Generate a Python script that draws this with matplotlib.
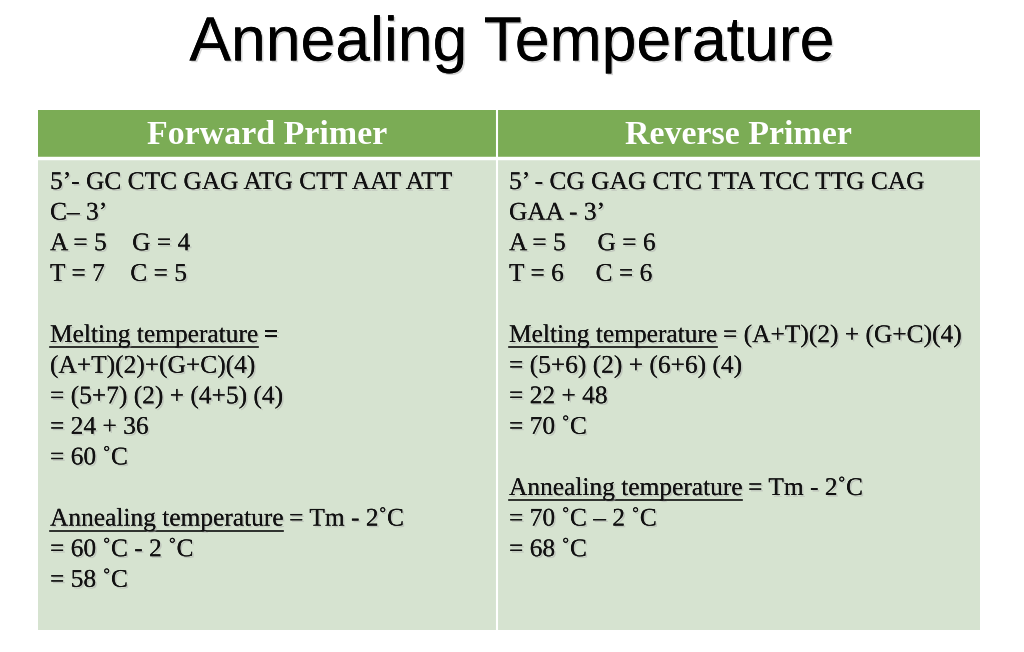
import matplotlib
matplotlib.use("Agg")
import matplotlib.pyplot as plt
from matplotlib.patches import Rectangle
import matplotlib.patheffects as pe

title = "Annealing Temperature"
headers = ["Forward Primer", "Reverse Primer"]
# each line: (underlined part, rest); None = blank line
left_lines = [("", "5’- GC CTC GAG ATG CTT AAT ATT"), ("", "C– 3’"),
              ("", "A = 5    G = 4"), ("", "T = 7    C = 5"), None,
              ("Melting temperature", " ="), ("", "(A+T)(2)+(G+C)(4)"),
              ("", "= (5+7) (2) + (4+5) (4)"), ("", "= 24 + 36"), ("", "= 60 ˚C"), None,
              ("Annealing temperature", " = Tm - 2˚C"), ("", "= 60 ˚C - 2 ˚C"), ("", "= 58 ˚C")]
right_lines = [("", "5’ - CG GAG CTC TTA TCC TTG CAG"), ("", "GAA - 3’"),
               ("", "A = 5     G = 6"), ("", "T = 6     C = 6"), None,
               ("Melting temperature", " = (A+T)(2) + (G+C)(4)"), ("", "= (5+6) (2) + (6+6) (4)"),
               ("", "= 22 + 48"), ("", "= 70 ˚C"), None,
               ("Annealing temperature", " = Tm - 2˚C"), ("", "= 70 ˚C – 2 ˚C"), ("", "= 68 ˚C")]

W, H = 1024, 652
fig = plt.figure(figsize=(W/100, H/100), dpi=100)
ax = fig.add_axes([0, 0, 1, 1])
ax.set_xlim(0, W); ax.set_ylim(H, 0); ax.axis("off")

shadow = [pe.withSimplePatchShadow(offset=(1.2, -1.2), shadow_rgbFace="#aaaaaa", alpha=0.5), pe.Normal()]

ax.text(W/2, 44, title, fontsize=45, family="Liberation Sans", ha="center", va="center",
        path_effects=shadow)

x0, xm, x1 = 38, 497, 980
ax.add_patch(Rectangle((x0, 110), x1-x0, 48, facecolor="#7bac55", edgecolor="none"))
ax.add_patch(Rectangle((x0, 158), x1-x0, 472, facecolor="#d6e3d0", edgecolor="none"))
ax.plot([xm, xm], [110, 630], color="white", lw=1.5)
ax.plot([x0, x1], [158, 158], color="white", lw=2.5)
for xc, h in zip([(x0+xm)/2, (xm+x1)/2], headers):
    ax.text(xc, 135, h, fontsize=24.5, family="Liberation Serif", weight="bold", color="white",
            ha="center", va="center")

fig.canvas.draw()
r = fig.canvas.get_renderer()
fs = 18.3
for xs, lines in [(50, left_lines), (509, right_lines)]:
    for i, ln in enumerate(lines):
        if ln is None:
            continue
        y = 183 + i*30.6
        u, rest = ln
        x = xs
        if u:
            t = ax.text(x, y, u, fontsize=fs, family="Liberation Serif", va="center", color="#111111",
                        path_effects=shadow)
            bb = t.get_window_extent(r)
            wpx = bb.width
            ax.plot([x, x+wpx], [y+11, y+11], color="#111111", lw=1.2)
            x += wpx
        ax.text(x, y, rest, fontsize=fs, family="Liberation Serif", va="center", color="#111111",
                path_effects=shadow)

fig.savefig("out.png", dpi=100)
